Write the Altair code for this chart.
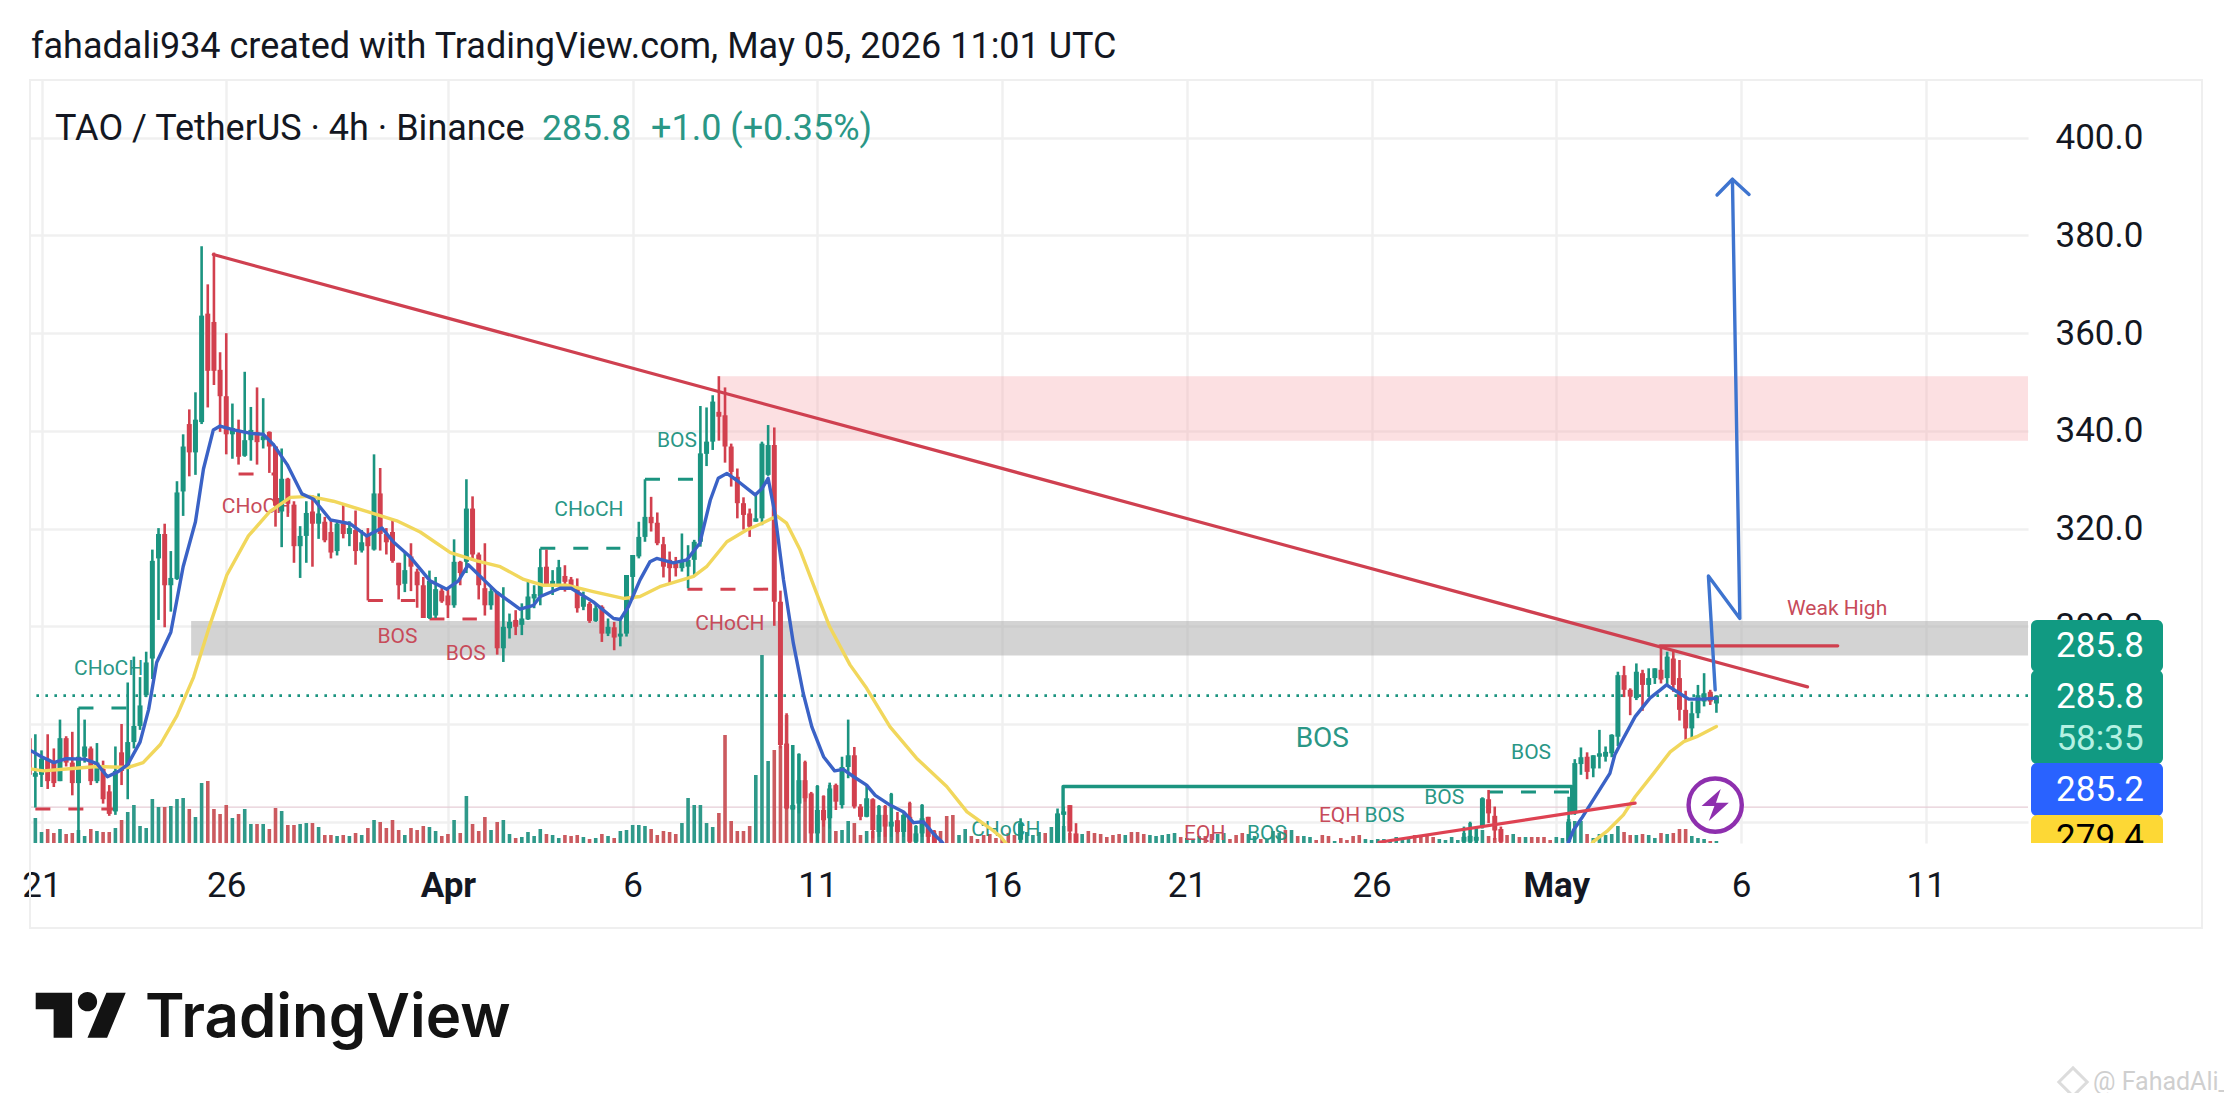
import altair as alt
import pandas as pd

# ---------- candles (x is the 4h bar number counted from 21 March 00:00) ----------
bars_a = list(range(-2, 146))
dirs_a = ("RGGRRGRRGG" "RGRRGRGGGG" "GGRGGGRGGR" "RRRGRGGRGR" "RGRRGGRGRR"
          "GRGRGRGRRR" "RGRRRGGRRG" "RGRRRGRGGR" "GGGGRGGRRR" "GRGRGRGGGG"
          "GRRRRRGGGG" "GGRRRRRRGG" "GRRRGGRRGR" "GRGGRRGRGR" "GRGRGGRR")
highs_a = [278.8,277.9,274.6,277.9,275.0,280.9,277.5,278.4,283.3,280.9,
           275.4,276.1,272.5,267.5,275.4,280.0,288.5,293.8,289.6,294.8,
           315.7,320.1,321.0,315.4,329.7,339.3,344.4,347.9,377.8,370.0,
           376.5,356.1,360.0,345.6,342.3,352.1,344.9,348.9,346.7,339.9,
           336.8,336.4,330.4,325.6,320.5,325.6,326.8,327.2,322.4,321.8,
           321.4,324.9,321.5,323.7,319.7,320.1,335.2,332.4,320.1,321.8,
           313.0,315.1,317.0,311.8,310.1,311.4,310.1,308.0,307.6,317.8,
           313.4,330.1,326.6,315.1,317.0,308.0,307.2,308.0,302.6,303.3,
           304.7,309.3,308.4,315.9,315.7,311.5,313.6,312.5,310.1,309.8,
           307.1,305.0,304.7,304.3,301.6,300.9,301.4,310.5,314.6,321.4,
           330.1,326.5,323.3,318.3,315.3,314.2,319.0,316.6,317.7,345.1,
           344.8,347.3,351.2,348.9,337.4,332.3,326.4,324.1,326.9,337.8,
           341.2,340.7,307.3,282.2,275.7,274.0,272.5,266.1,267.5,265.4,
           268.0,267.8,273.3,280.9,275.3,263.6,267.5,264.8,263.4,263.4,
           265.9,262.0,262.0,264.1,259.3,263.6,261.0,258.3]
tops_a = [277.1,270.0,272.9,272.9,272.1,277.1,277.1,272.1,273.3,275.4,
          275.0,272.1,270.8,266.2,270.4,274.2,276.3,279.6,283.8,292.6,
          313.4,318.9,318.9,309.9,327.4,336.8,341.4,342.3,363.6,364.0,
          362.3,352.5,347.1,340.6,339.8,338.1,340.2,339.8,338.9,339.8,
          336.8,330.2,330.2,324.9,318.5,323.2,323.5,323.1,321.4,319.3,
          321.0,321.0,320.1,319.7,317.2,318.9,327.2,327.2,318.9,319.3,
          313.0,311.5,314.3,311.2,308.4,309.3,307.6,307.3,306.3,313.2,
          313.2,324.1,324.1,314.7,307.8,307.2,307.0,299.9,300.9,301.3,
          301.6,306.1,306.6,312.1,312.2,309.3,312.1,310.3,309.6,307.6,
          306.1,304.6,303.7,304.0,299.9,299.8,298.5,310.5,314.6,318.3,
          322.4,322.4,321.2,316.8,313.6,312.9,313.2,313.6,317.3,335.4,
          337.8,346.0,343.9,343.2,336.8,330.6,325.2,323.1,322.1,337.4,
          337.1,337.1,305.0,276.0,263.4,268.5,268.5,265.8,262.4,262.4,
          266.8,267.5,271.2,273.6,273.6,263.1,264.8,264.6,261.4,261.4,
          260.0,260.3,261.4,261.0,257.6,260.7,261.0,257.6]
bottoms_a = [269.6,269.2,269.6,268.3,267.9,268.3,272.1,267.9,267.9,273.3,
             268.3,268.3,264.6,261.6,262.1,270.4,270.8,276.3,279.6,285.9,
             293.4,313.9,308.4,308.4,309.7,327.6,335.6,335.6,341.8,352.3,
             352.3,347.1,339.3,339.3,334.7,334.9,338.1,337.7,338.1,336.8,
             324.7,323.5,325.1,316.4,316.4,318.5,321.0,321.0,317.6,315.1,
             315.4,318.9,318.9,315.4,315.5,316.4,315.7,318.9,317.2,313.4,
             308.4,308.7,312.2,308.4,301.7,301.7,302.2,305.1,304.3,304.3,
             310.9,313.2,314.7,308.4,304.3,304.3,295.5,295.5,299.6,299.9,
             300.3,301.4,305.7,306.1,308.4,308.1,308.4,309.1,307.8,303.7,
             304.0,301.1,301.1,298.5,298.5,297.7,297.9,298.5,310.1,314.3,
             318.3,321.1,317.0,312.2,311.9,311.9,311.9,312.2,313.6,317.3,
             335.3,337.8,342.9,336.8,331.6,325.2,322.8,320.4,321.4,322.1,
             331.0,305.0,275.7,262.7,262.5,263.7,264.8,257.6,257.6,260.3,
             260.7,264.1,263.4,271.2,263.1,261.0,261.0,258.3,257.9,259.0,
             259.0,257.9,257.9,255.9,255.9,257.6,256.9,255.6]
lows_a = [266.2,262.9,267.1,266.7,267.1,268.3,271.3,265.4,255.7,272.1,
          267.5,267.9,263.7,261.2,261.4,267.5,264.6,275.0,278.8,285.5,
          289.2,301.3,299.8,303.0,309.5,322.6,330.7,331.0,341.4,344.8,
          349.4,339.8,335.2,334.3,333.1,334.7,333.9,333.1,336.4,331.4,
          320.4,316.2,322.4,313.0,309.9,313.0,312.2,317.9,317.2,313.9,
          314.5,318.0,316.4,312.6,315.1,305.3,315.5,315.5,314.7,313.0,
          305.5,307.0,307.2,303.8,301.7,301.5,301.7,304.8,301.7,303.8,
          308.4,310.9,313.4,305.5,302.2,303.4,294.2,292.7,297.5,298.2,
          298.2,301.3,303.7,304.3,308.2,306.4,308.2,307.1,307.6,302.8,
          303.3,300.7,300.9,296.8,298.0,295.1,295.9,297.9,305.5,313.9,
          317.3,319.4,316.6,310.0,308.8,310.2,311.2,307.8,310.2,316.3,
          332.8,336.1,338.0,333.5,328.6,322.1,319.8,318.3,321.4,320.7,
          330.8,300.1,275.0,262.5,262.4,261.7,264.1,255.9,255.9,259.0,
          258.6,262.4,262.7,268.9,262.7,260.3,260.9,256.6,256.9,256.9,
          256.9,257.6,256.9,255.6,255.6,256.9,255.6,255.2]

# the few candles that surface again later on
bars_b = [159,165,166,167,168,231,232,233,234,235,236,237] + list(range(248, 273))
dirs_b = "GGGRRGGGGRRR" + "GGGRGGGGGRRGRGGRGRRRGGGRG"
highs_b = [260.7,262.7,263.1,263.4,259.7,259.0,260.0,258.6,265.0,266.5,263.1,259.0,
           265.1,272.8,275.2,274.2,273.6,278.8,275.4,277.9,290.7,291.9,287.3,292.4,
           291.1,291.4,291.4,295.7,294.8,295.2,293.1,286.8,284.6,288.0,290.4,287.0,285.9]
tops_b = [259.7,261.7,262.1,263.4,257.6,256.9,257.1,256.9,264.8,264.6,261.2,258.5,
          260.0,272.0,273.2,273.3,273.6,274.0,274.3,277.8,290.0,290.0,287.0,290.7,
          290.4,289.4,291.4,291.1,293.8,293.4,289.4,282.9,282.2,285.9,286.3,286.6,285.8]
bottoms_b = [256.3,255.7,261.4,258.0,255.7,255.9,255.9,256.1,259.0,261.7,258.2,255.9,
             255.9,261.7,271.8,270.2,270.9,273.3,273.3,274.0,277.4,287.0,285.6,285.3,
             288.0,288.0,289.4,289.1,289.4,288.0,282.9,279.1,279.1,282.2,284.6,284.6,284.2]
lows_b = [255.9,255.6,256.3,256.3,255.6,255.6,255.6,255.6,258.6,259.7,256.3,255.7,
          255.8,261.4,269.6,268.7,269.1,270.9,272.3,273.2,275.5,285.5,281.8,284.9,
          282.7,285.6,288.2,288.3,288.0,286.6,280.7,276.6,277.1,281.2,283.6,283.9,282.3]

# ---------- volume, bars -2 ... 272 ----------
volumes = [17,25,11,14,10,14,9,10,13,7, 14,12,11,11,15,23,31,38,17,15,
           44,36,36,37,44,45,34,26,60,62, 34,29,38,25,29,34,19,19,19,14,
           35,32,18,18,19,20,20,16,8,8, 7,8,7,10,8,15,23,21,15,23,
           13,8,15,13,17,16,12,7,9,23, 10,47,19,12,26,13,21,23,9,5,
           6,11,7,14,9,8,5,8,7,8, 6,4,5,9,7,5,12,13,18,18,
           17,14,8,12,11,9,20,45,38,38, 20,16,30,108,22,12,12,17,68,188,
           82,93,97,128,98,89,81,22,57,47, 58,12,13,22,20,8,12,12,37,37,
           49,12,12,40,17,38,25,12,12,27, 28,8,14,7,4,8,9,5,5,10,
           8,10,11,8,11,10,16,15,17,10, 5,9,12,10,9,6,8,9,8,11,
           11,9,8,7,8,9,10,6,5,4, 7,7,9,9,10,4,8,10,9,7,
           4,4,12,10,13,13,7,7,6,3, 8,7,2,5,3,7,8,4,3,4,
           4,3,6,4,6,8,8,8,6,4, 3,6,3,10,20,15,13,7,5,8,
           8,9,6,6,6,6,6,3,6,5, 24,22,22,9,5,9,8,9,17,11,
           8,8,9,8,5,10,9,10,14,14, 7,5,4,2,2]
vol_dirs_mid = ("RRRG" "GRRRRRRRRGGGGRGGGRRGRRRRRRGRRRGGGGGRGGGRRGGRRRGG"
                "RGGGRGRGGRRRGRRRRGGGGGGGGRRRRGGGGGGGGRRRRGRGRRRRGG")

# ---------- moving averages ----------
blue_a_bars = [-1.8,0,2,4,7,9,10.7,12.5,14,16,17.4,18.7,21,23,25,26.3,27.9,29,31.2,34,36,37.6,39.9,42.3,
               44.2,46.9,50.1,52.8,55.3,57.2,59.8,63.1,65.8,67.7,69.3,73.9,
               77.7,79.9,81,84.2,86,89.6,92.9,94,95.3,97.2,98.8,99.9,102.6,104.8,106.9,108.6,109.9,111.3,
               112.9,115.9,117,118,119.1,120.5,122.1,123.7,125.1,127,128.8,130.2,131.9,134,135.4,137.8,
               140,141.6,143.2,144.8,146.2,147]
blue_a_vals = [274.6,273.3,272.1,272.9,272.8,271.9,269.2,270.3,271.7,276.3,283.0,292.6,298.8,312.2,321.4,332.2,340.2,341.0,340.2,339.5,339.3,337.3,333.1,327.1,
               326.0,321.8,321.0,318.5,320.1,317.2,314.3,309.3,307.6,309.3,312.6,307.0,
               303.5,304.3,306.1,307.8,307.8,305.0,301.6,301.4,304.0,309.5,313.2,313.9,313.0,313.6,317.0,325.8,330.3,331.3,
               329.9,326.9,328.2,330.3,323.1,309.5,296.5,286.3,279.4,273.3,270.4,270.7,269.2,267.5,265.4,263.4,
               262.0,259.8,260.0,257.6,255.9,254.5]
blue_b_bars = [247.5,248,248.8,250.1,252.3,254.7,255.5,256.9,258.8,261.2,262.9,263.9,265.6,267.5,269.9,271.8,272]
blue_b_vals = [254.5,255.9,258.3,260.7,265.1,269.9,273.7,277.1,281.5,285.3,287.0,288.0,286.6,285.1,285.1,285.3,285.2]
yellow_a_bars = [-1.8,0.3,4,9,14.1,16.5,19.3,22,24.7,27.4,30.1,33.6,37.1,40.4,43.6,47.4,52.8,57.7,61.5,66.4,70.7,74.5,
                 78.3,81.5,85.3,89.6,94.5,97.2,100.4,105.9,108,111.3,114.5,117.2,119.4,121,123.2,125.9,128,131.3,
                 134,137.8,142.1,147,150.3,154.1,155.7,157]
yellow_a_vals = [270.8,270.4,270.8,271.3,271.1,272.1,275.8,281.7,289.6,300.5,310.5,318.5,323.5,326.4,326.6,325.6,323.5,321.6,319.3,315.1,313.4,312.2,
                 309.6,308.4,308.4,307.1,305.7,306.1,308.1,310.2,312.2,317.3,319.7,321.2,322.6,321.1,315.6,306.7,299.9,292.1,
                 287.3,279.4,273.0,267.2,262.0,258.6,257.0,255.0]
yellow_b_bars = [251.5,252,254.2,256.9,258.8,261.8,264.5,266.7,268.8,272]
yellow_b_vals = [255.0,255.9,258.0,261.4,265.1,269.9,274.3,276.4,277.4,279.5]

# ---------- drawings ----------
trend_main_bars = [27.9, 286.8];  trend_main_vals = [376.1, 287.6]
trend_low_bars = [217.2, 258.8];  trend_low_vals = [255.8, 263.8]
weak_high_bars = [262.8, 291.7];  weak_high_vals = [296.0, 296.0]
arrow_bars = [271.8, 270.7, 275.8, 274.6];  arrow_vals = [287.0, 310.3, 301.6, 391.5]
arrow_head_bars = [272.1, 274.6, 277.3];    arrow_head_vals = [388.3, 391.5, 388.4]
box_bars = [165.9, 165.9, 248.5, 248.5];    box_vals = [261.8, 267.2, 267.2, 261.8]

dash_start = [6, -1, 32, 53, 63, 81, 98, 104.9, 234.9]
dash_end = [13.8, 12, 38, 60.7, 70.7, 94, 105.8, 118, 248.2]
dash_price = [283.3, 262.6, 331.2, 305.3, 301.5, 316.0, 330.1, 307.6, 266.1]
dash_dir = ["G", "R", "R", "R", "R", "G", "G", "R", "G"]

label_text = ["CHoCH", "CHoCH", "BOS", "BOS", "CHoCH", "BOS", "CHoCH", "CHoCH", "EQH", "BOS", "EQH", "BOS", "BOS", "BOS", "Weak High"]
label_bar = [10.9, 34.9, 57.8, 68.9, 88.9, 103.2, 111.8, 156.6, 188.9, 199, 210.8, 218.1, 227.8, 241.9, 291.6]
label_price = [291.3, 324.5, 297.9, 294.4, 323.8, 337.9, 300.4, 258.2, 257.5, 257.5, 261.2, 261.2, 264.8, 274.0, 303.5]
label_dir = ["G", "R", "R", "R", "G", "G", "R", "G", "R", "G", "R", "G", "G", "G", "R"]

tick_bars = [0, 30, 66, 96, 126, 156, 186, 216, 246, 276, 306]
tick_names = ["21", "26", "Apr", "6", "11", "16", "21", "26", "May", "6", "11"]
price_ticks = [260, 280, 300, 320, 340, 360, 380, 400]

GREEN, RED = "#1b9480", "#d2404e"
TEXT_GREEN, TEXT_RED = "#2a9786", "#c74b5a"
FONT = "Roboto"
W, H = 1998, 763

# ---------- tables ----------
candles = pd.DataFrame({
    "bar": bars_a + bars_b,
    "dir": list(dirs_a) + list(dirs_b),
    "high": highs_a + highs_b,
    "top": tops_a + tops_b,
    "bottom": bottoms_a + bottoms_b,
    "low": lows_a + lows_b,
})
vol_bars = list(range(-2, 273))
vol_dir = list(dirs_a) + list(vol_dirs_mid) + list(dirs_b[12:])
volume = pd.DataFrame({"bar": vol_bars, "volume": volumes, "dir": vol_dir})
dashes = pd.DataFrame({"bar": dash_start, "bar2": dash_end, "price": dash_price, "dir": dash_dir})
labels = pd.DataFrame({"t": label_text, "bar": label_bar, "price": label_price, "dir": label_dir})


def series(b, v):
    return pd.DataFrame({"bar": b, "price": v, "ord": list(range(len(b)))})


def by_dir(g, r):
    return alt.condition("datum.dir == 'G'", alt.value(g), alt.value(r))


x_scale = alt.Scale(domain=[-1.87, 322.6], nice=False, zero=False, padding=0)
p_scale = alt.Scale(domain=[255.64, 411.83], nice=False, zero=False, padding=0)
X = alt.X("bar:Q", scale=x_scale, axis=None)
Y = alt.Y("price:Q", scale=p_scale, axis=None)


def line(b, v, color, width=3.0):
    return alt.Chart(series(b, v)).mark_line(color=color, strokeWidth=width, clip=True, strokeCap="round",
                                             strokeJoin="round").encode(x=X, y=Y, order=alt.Order("ord:Q"))


def pixel_text(t, x, y, size=35, color="#131722", align="left", font=FONT, weight=400):
    return alt.Chart(pd.DataFrame({"t": [t]})).mark_text(
        font=font, fontSize=size, color=color, align=align, baseline="middle", fontWeight=weight
    ).encode(text="t:N", x=alt.value(x), y=alt.value(y))


def pixel_box(x1, x2, y1, y2, color, radius=0):
    return alt.Chart(pd.DataFrame({"k": [0]})).mark_rect(color=color, cornerRadius=radius).encode(
        x=alt.value(x1), x2=alt.value(x2), y=alt.value(y1), y2=alt.value(y2))


# ---------- background: grid, axes, zones ----------
axis_layer = alt.Chart(pd.DataFrame({"bar": tick_bars, "price": [300] * len(tick_bars)})).mark_point(opacity=0).encode(
    x=alt.X("bar:Q", scale=x_scale, axis=alt.Axis(
        values=tick_bars, title=None, grid=True, gridColor="#f0f0f0", gridWidth=2.5, domain=False, ticks=False,
        labelFont=FONT, labelFontSize=35, labelColor="#131722", labelPadding=25, labelOverlap=False,
        labelFlush=False, labelBound=False,
        labelExpr="%s[indexof(%s, datum.value)]" % (tick_names, tick_bars),
        labelFontWeight={"condition": {"test": "datum.value == 66 || datum.value == 246", "value": 700}, "value": 400},
    )),
    y=alt.Y("price:Q", scale=p_scale, axis=alt.Axis(
        values=price_ticks, orient="right", title=None, grid=True, gridColor="#f0f0f0", gridWidth=2.5, domain=False,
        ticks=False, format=".1f", labelFont=FONT, labelFontSize=35, labelColor="#131722", labelPadding=27,
        labelOverlap=False, labelFlush=False, labelBound=False,
    )),
)
support_zone = alt.Chart(pd.DataFrame({"bar": [24.3], "bar2": [322.6], "price": [301.1], "price2": [294.0]})).mark_rect(
    color="#a8a8a8", opacity=0.5, clip=True).encode(x=X, x2="bar2:Q", y=Y, y2="price2:Q")
resist_zone = alt.Chart(pd.DataFrame({"bar": [110.2], "bar2": [322.6], "price": [351.2], "price2": [338.0]})).mark_rect(
    color="#f8aab0", opacity=0.36, clip=True).encode(x=X, x2="bar2:Q", y=Y, y2="price2:Q")
pale_rule = alt.Chart(pd.DataFrame({"price": [263.0]})).mark_rule(color="#e6cdd6", strokeWidth=1.2).encode(y=Y)

# ---------- volume ----------
vol_layer = alt.Chart(volume).mark_bar(width=3.6, clip=True).encode(
    x=X,
    y=alt.Y("volume:Q", scale=alt.Scale(domain=[0, H], nice=False, zero=True, padding=0), axis=None),
    color=by_dir("#2f998a", "#cb5a5f"),
)

# ---------- price overlays ----------
price_rule = alt.Chart(pd.DataFrame({"price": [285.8]})).mark_rule(
    color=GREEN, strokeWidth=2.6, strokeDash=[2.6, 6.4]).encode(y=Y)
label_layer = alt.Chart(labels).mark_text(font=FONT, fontSize=21).encode(
    x=X, y=Y, text="t:N", color=by_dir(TEXT_GREEN, TEXT_RED))
big_bos = alt.Chart(pd.DataFrame({"t": ["BOS"], "bar": [208], "price": [276.9]})).mark_text(
    font=FONT, fontSize=28, color=TEXT_GREEN).encode(x=X, y=Y, text="t:N")
dash_layer = alt.Chart(dashes).mark_rule(strokeWidth=3, strokeDash=[15, 18], clip=True).encode(
    x=X, x2="bar2:Q", y=Y, color=by_dir(GREEN, RED))
wicks = alt.Chart(candles).mark_rule(strokeWidth=2.6, clip=True).encode(
    x=X, y=alt.Y("high:Q", scale=p_scale, axis=None), y2="low:Q", color=by_dir(GREEN, RED))
bodies = alt.Chart(candles).mark_bar(width=5, clip=True).encode(
    x=X, y=alt.Y("top:Q", scale=p_scale, axis=None), y2="bottom:Q", color=by_dir(GREEN, RED))

bolt = "M0.35,-1 L-0.85,0.05 L-0.05,0.05 L-0.4,1 L0.85,-0.15 L0.05,-0.15 Z"
badge = pd.DataFrame({"bar": [271.8], "price": [263.4]})
badge_ring = alt.Chart(badge).mark_point(shape="circle", size=2830, filled=True, fill="#ffffff", stroke="#8e2fae",
                                         strokeWidth=4.4, opacity=1).encode(x=X, y=Y)
badge_bolt = alt.Chart(badge).mark_point(shape=bolt, size=1024, filled=True, fill="#8e2fae", strokeWidth=0,
                                         opacity=1).encode(x=X, y=Y)

# ---------- price tags, header, branding (positions relative to the pane) ----------
logo = ("M-1,-0.5 L-0.191,-0.5 L-0.191,0.5 L-0.602,0.5 L-0.602,-0.131 L-1,-0.131 Z "
        "M0.571,-0.5 L1,-0.5 L0.587,0.5 L0.151,0.5 Z "
        "M-0.063,-0.3 A0.214,0.214 0 1 0 0.365,-0.3 A0.214,0.214 0 1 0 -0.063,-0.3 Z")
logo_layer = alt.Chart(pd.DataFrame({"k": [0]})).mark_point(
    shape=logo, size=8100, filled=True, fill="#131313", strokeWidth=0, opacity=1
).encode(x=alt.value(50.7), y=alt.value(935.2))
mark_diamond = alt.Chart(pd.DataFrame({"k": [0]})).mark_point(
    shape="diamond", size=800, filled=False, stroke="#dcdcdc", strokeWidth=3, opacity=1
).encode(x=alt.value(2043), y=alt.value(1002))
frame = alt.Chart(pd.DataFrame({"k": [0]})).mark_rect(fillOpacity=0, stroke="#efefef", strokeWidth=2).encode(
    x=alt.value(0), x2=alt.value(2172), y=alt.value(0), y2=alt.value(848))

layers = [
    axis_layer, support_zone, resist_zone, pale_rule,
    vol_layer,
    price_rule, label_layer, big_bos, dash_layer, wicks, bodies,
    line(yellow_a_bars, yellow_a_vals, "#f1d75c", 3.4), line(yellow_b_bars, yellow_b_vals, "#f1d75c", 3.4),
    line(blue_a_bars, blue_a_vals, "#3a62c6", 3.4), line(blue_b_bars, blue_b_vals, "#3a62c6", 3.4),
    line(box_bars, box_vals, GREEN, 3.4),
    line(trend_main_bars, trend_main_vals, "#cf4050", 3.2),
    line(trend_low_bars, trend_low_vals, "#de4252", 3.2),
    line(weak_high_bars, weak_high_vals, "#d0404f", 3.2),
    line(arrow_bars, arrow_vals, "#3e74cf", 3.4),
    line(arrow_head_bars, arrow_head_vals, "#3e74cf", 3.4),
    badge_ring, badge_bolt,
    frame,
    pixel_box(2001, 2133, 540, 592, "#119a82", 6),
    pixel_box(2001, 2133, 590, 684, "#119a82", 6),
    pixel_box(2001, 2133, 683, 736, "#2962ff", 6),
    pixel_box(2001, 2133, 735, 775, "#fdd835", 6),
    pixel_text("285.8", 2070, 566, color="#ffffff", align="center"),
    pixel_text("285.8", 2070, 617, color="#ffffff", align="center"),
    pixel_text("58:35", 2070, 659, color="#b4f1e2", align="center"),
    pixel_text("285.2", 2070, 710, color="#ffffff", align="center"),
    pixel_text("279.4", 2070, 758, color="#000000", align="center"),
    pixel_box(1995, 2140, 763, 790, "#ffffff"),
    pixel_text("fahadali934 created with TradingView.com, May 05, 2026 11:01 UTC", 1, -33, size=36),
    pixel_text("TAO / TetherUS · 4h · Binance", 25, 49, size=36),
    pixel_text("285.8", 512, 49, size=35.5, color=TEXT_GREEN),
    pixel_text("+1.0 (+0.35%)", 621, 49, size=36, color=TEXT_GREEN),
    logo_layer,
    pixel_text("TradingView", 115, 939, size=60, color="#131313", font="Inter", weight=600),
    mark_diamond,
    pixel_text("@ FahadAli_", 2063, 1002, size=25, color="#cfcfcf"),
]

chart = alt.layer(*layers).resolve_scale(y="independent").resolve_axis(x="independent").properties(
    width=W, height=H, background="#ffffff",
    padding={"left": 22, "top": 72, "right": 196, "bottom": 250},
    autosize=alt.AutoSizeParams(type="none"),
).configure_view(stroke=None)

chart.save("out.html", embed_options={"renderer": "svg", "actions": False})
